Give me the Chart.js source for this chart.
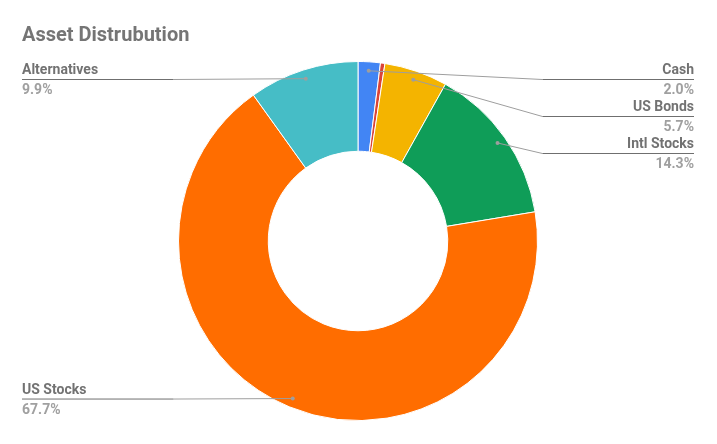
<!DOCTYPE html>
<html>
<head>
<meta charset="utf-8">
<script src="https://cdn.jsdelivr.net/npm/chart.js@4"></script>
<style>
  body { margin: 0; background: #fff; }
  #wrap { width: 717px; height: 444px; }
</style>
</head>
<body>
<div id="wrap"><canvas id="myChart" width="717" height="444"></canvas></div>
<script>
var chartTitle = 'Asset Distrubution';
var categories = ['Cash', 'Other', 'US Bonds', 'Intl Stocks', 'US Stocks', 'Alternatives'];
var shares = [2.0, 0.4, 5.7, 14.3, 67.7, 9.9];
var sliceColors = ['#4285F4', '#DB4437', '#F4B400', '#0F9D58', '#FF6D00', '#46BDC6'];

// slices under 1% get no label, like the original
var labelPlugin = {
  id: 'sideLabels',
  afterDatasetsDraw: function(chart) {
    var ctx = chart.ctx;
    var arcs = chart.getDatasetMeta(0).data;
    var right = [], left = [];
    arcs.forEach(function(arc, i) {
      if (shares[i] < 1) return;
      var p = arc.getProps(['x', 'y', 'startAngle', 'endAngle', 'outerRadius'], true);
      var mid = (p.startAngle + p.endAngle) / 2;
      var r = p.outerRadius * 0.95;
      var item = {
        i: i,
        px: p.x + Math.cos(mid) * r,
        py: p.y + Math.sin(mid) * r,
        cx: p.x, R: p.outerRadius
      };
      if (Math.cos(mid) >= 0) right.push(item); else left.push(item);
    });

    function place(list) {
      list.sort(function(a, b) { return a.py - b.py; });
      var prev = -1000;
      list.forEach(function(it) {
        it.ly = Math.max(it.py, prev + 37, 79);
        prev = it.ly;
      });
    }
    place(right); place(left);

    ctx.save();
    function drawOne(it, isRight) {
      var elbowX = isRight ? it.cx + it.R + 5 : it.cx - it.R - 5;
      var endX = isRight ? 694 : 22;
      ctx.lineWidth = 1;
      ctx.strokeStyle = '#9e9e9e';
      ctx.beginPath();
      ctx.moveTo(it.px, it.py);
      ctx.lineTo(elbowX, it.ly + 0.5);
      ctx.stroke();
      ctx.strokeStyle = '#6f6f6f';
      ctx.beginPath();
      ctx.moveTo(elbowX, it.ly + 0.5);
      ctx.lineTo(endX, it.ly + 0.5);
      ctx.stroke();
      ctx.fillStyle = '#9e9e9e';
      ctx.beginPath();
      ctx.arc(it.px, it.py, 2, 0, Math.PI * 2);
      ctx.fill();

      ctx.textAlign = isRight ? 'right' : 'left';
      ctx.textBaseline = 'alphabetic';
      ctx.font = 'bold 14px Roboto';
      ctx.fillStyle = '#727272';
      ctx.fillText(categories[it.i], endX, it.ly - 5);
      ctx.fillStyle = '#a0a0a0';
      ctx.fillText(shares[it.i].toFixed(1) + '%', endX, it.ly + 15);
    }
    right.forEach(function(it) { drawOne(it, true); });
    left.forEach(function(it) { drawOne(it, false); });

    ctx.font = 'bold 20px Roboto';
    ctx.fillStyle = '#757575';
    ctx.textAlign = 'left';
    ctx.fillText(chartTitle, 22, 41);
    ctx.restore();
  }
};

var ctx = document.getElementById('myChart');
var myChart = new Chart(ctx, {
  type: 'doughnut',
  data: {
    labels: categories,
    datasets: [{
      data: shares,
      backgroundColor: sliceColors,
      borderColor: '#ffffff',
      borderWidth: 1
    }]
  },
  options: {
    responsive: false,
    animation: false,
    cutout: '50%',
    layout: { padding: { top: 61, bottom: 23, left: 0, right: 1 } },
    plugins: {
      legend: { display: false },
      tooltip: { enabled: false }
    }
  },
  plugins: [labelPlugin]
});
</script>
</body>
</html>
